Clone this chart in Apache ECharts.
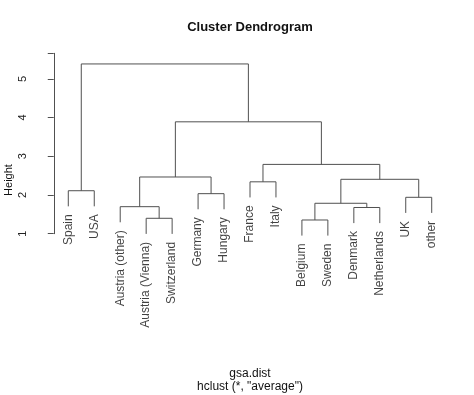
<!DOCTYPE html>
<html>
<head>
<meta charset="utf-8">
<script src="https://cdn.jsdelivr.net/npm/echarts@6/dist/echarts.min.js"></script>
<style>
html,body{margin:0;padding:0;background:#fff;}
#c{width:474px;height:395px;}
</style>
</head>
<body>
<div id="c"></div>
<script>
// Leaves in display order (position 1..15)
var leafLabels = ['Spain','USA','Austria (other)','Austria (Vienna)','Switzerland','Germany','Hungary','France','Italy','Belgium','Sweden','Denmark','Netherlands','UK','other'];
// Merge steps (R hclust style): negative = leaf position, positive = earlier merge step
var mergeLeft   = [-10, -4, -12, -3, 1, -14, -6, -1, -8, 5, 4, 9, 11, 8];
var mergeRight  = [-11, -5, -13,  2, 3, -15, -7, -2, -9, 6, 7, 10, 12, 13];
var mergeHeight = [1.354, 1.398, 1.677, 1.698, 1.786, 1.94, 2.034, 2.11, 2.34, 2.405, 2.465, 2.79, 3.89, 5.385];
var yTicks = [1, 2, 3, 4, 5];

var hMax = Math.max.apply(null, mergeHeight), hMin = Math.min.apply(null, mergeHeight);
var hang = 0.1 * (hMax - hMin);

// compute node x-positions and bottom heights
var nodeX = [], leafH = [];
function childInfo(id, parentH) {
  if (id < 0) {
    var p = -id;
    leafH[p - 1] = parentH - hang;
    return { x: p, y: parentH - hang };
  }
  return { x: nodeX[id - 1], y: mergeHeight[id - 1] };
}
var segs = [];
for (var i = 0; i < mergeHeight.length; i++) {
  var h = mergeHeight[i];
  var a = childInfo(mergeLeft[i], h), b = childInfo(mergeRight[i], h);
  nodeX[i] = (a.x + b.x) / 2;
  segs.push([a.x, a.y, b.x, b.y, h]);
}
var leafData = leafLabels.map(function (n, k) { return { name: n, value: [k + 1, leafH[k]] }; });

var chart = echarts.init(document.getElementById('c'), null, { renderer: 'canvas' });
var lineColor = '#505050';
chart.setOption({
  backgroundColor: '#fff',
  animation: false,
  grid: { left: 53.76, right: 27.76, top: 53.3, bottom: 161.3 },
  xAxis: { type: 'value', min: 0.44, max: 15.56, show: false },
  yAxis: {
    type: 'value', min: 1, max: 5.66, interval: 1,
    axisLine: { show: true, lineStyle: { color: lineColor, width: 1 } },
    axisTick: { show: true, length: 6, lineStyle: { color: lineColor } },
    splitLine: { show: false },
    axisLabel: {
      rotate: 90, margin: 25, fontSize: 11, color: '#222',
      fontFamily: 'Liberation Sans, Arial, sans-serif',
      formatter: function (v) { return yTicks.indexOf(v) >= 0 ? String(v) : ''; }
    }
  },
  series: [
    {
      type: 'custom',
      clip: false,
      data: segs,
      renderItem: function (params, api) {
        var p1 = api.coord([api.value(0), api.value(1)]);
        var p2 = api.coord([api.value(0), api.value(4)]);
        var p3 = api.coord([api.value(2), api.value(4)]);
        var p4 = api.coord([api.value(2), api.value(3)]);
        return {
          type: 'polyline',
          shape: { points: [p1, p2, p3, p4] },
          style: { stroke: lineColor, lineWidth: 1, fill: null }
        };
      }
    },
    {
      type: 'scatter',
      symbolSize: 0,
      clip: false,
      data: leafData,
      label: {
        show: true,
        formatter: '{b}',
        position: 'bottom',
        distance: 8,
        rotate: 90,
        align: 'right',
        verticalAlign: 'middle',
        fontSize: 12,
        color: '#111',
        fontFamily: 'Liberation Sans, Arial, sans-serif'
      }
    }
  ],
  graphic: [
    { type: 'text', x: 250, y: 27, style: { text: 'Cluster Dendrogram', font: 'bold 13px "Liberation Sans", Arial, sans-serif', fill: '#111', textAlign: 'center', textVerticalAlign: 'middle' } },
    { type: 'text', x: 9, y: 180, rotation: Math.PI / 2, style: { text: 'Height', font: '11px "Liberation Sans", Arial, sans-serif', fill: '#111', textAlign: 'center', textVerticalAlign: 'middle' } },
    { type: 'text', x: 250, y: 374, style: { text: 'gsa.dist', font: '12px "Liberation Sans", Arial, sans-serif', fill: '#111', textAlign: 'center', textVerticalAlign: 'middle' } },
    { type: 'text', x: 250, y: 387, style: { text: 'hclust (*, "average")', font: '12px "Liberation Sans", Arial, sans-serif', fill: '#111', textAlign: 'center', textVerticalAlign: 'middle' } }
  ]
});
</script>
</body>
</html>
